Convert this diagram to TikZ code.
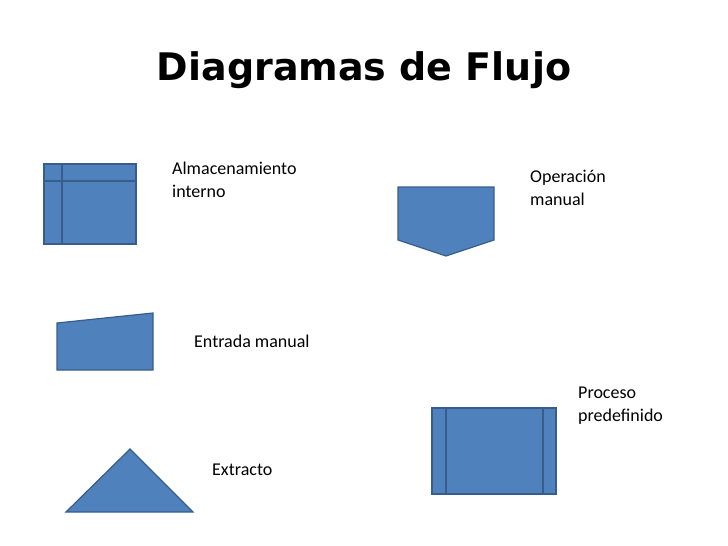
\documentclass[tikz,border=0pt]{standalone}
\usepackage{fontspec}
\setmainfont{Carlito}
\newfontfamily\titlefont{DejaVu Sans}
\definecolor{shfill}{HTML}{4F81BD}
\definecolor{shdraw}{HTML}{385D8A}
\begin{document}
\begin{tikzpicture}[x=1pt,y=-1pt,
  shp/.style={fill=shfill,draw=shdraw,line width=1.2pt},
  inl/.style={draw=shdraw,line width=1.2pt},
  lbl/.style={anchor=base west,align=left,font=\fontsize{18}{22.5}\selectfont,inner sep=0pt}]
\useasboundingbox (0,0) rectangle (728,546);
\node[font=\titlefont\bfseries\fontsize{38}{40}\selectfont] (title) at (364,70) {Diagramas de Flujo};
% Almacenamiento interno
\draw[shp] (44,164) rectangle (136,244);
\draw[inl] (62,164) -- (62,244) (44,181) -- (136,181);
\node[lbl] (t1) at (172,197) {Almacenamiento\\interno};
% Operacion manual
\draw[shp] (398,187) -- (494,187) -- (494,240) -- (446,256) -- (398,240) -- cycle;
\node[lbl] (t2) at (530,205) {Operación\\manual};
% Entrada manual
\draw[shp] (57,323) -- (153,313) -- (153,370) -- (57,370) -- cycle;
\node[lbl] (t3) at (194,347) {Entrada manual};
% Proceso predefinido
\draw[shp] (432,408) rectangle (556,494);
\draw[inl] (446,408) -- (446,494) (543,408) -- (543,494);
\node[lbl] (t4) at (578,421) {Proceso\\predefinido};
% Extracto
\draw[shp] (66,512) -- (130,449) -- (193,512) -- cycle;
\node[lbl] (t5) at (212,475) {Extracto};
\end{tikzpicture}
\end{document}
